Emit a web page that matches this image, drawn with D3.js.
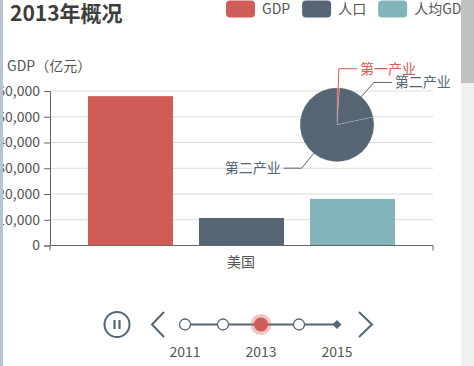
<!DOCTYPE html>
<html>
<head>
<meta charset="utf-8">
<script src="https://cdn.jsdelivr.net/npm/d3@7"></script>
<style>
  html, body { margin: 0; padding: 0; background: #fff; overflow: hidden; }
  text { font-family: "Noto Sans CJK SC", "Noto Sans", sans-serif; }
</style>
</head>
<body>
<script>
// chart data
var categories = ['美国'];
var seriesNames = ['GDP', '人口', '人均GDP'];
var seriesValues = [58000, 10700, 18100];
var yTicks = [0, 10000, 20000, 30000, 40000, 50000, 60000];
var pieNames = ['第一产业', '第二产业', '第二产业'];
var pieValues = [1.1, 20.6, 78.3];
var years = [2011, 2012, 2013, 2014, 2015];
var currentYear = 2013;

var width = 474, height = 366;
var colors = ['#cf5c57', '#566573', '#83b4b9'];
var pieColors = ['#cf5c57', '#566573', '#566573'];
var textColor = '#555';
var darkLine = '#566573';

var svg = d3.select('body').append('svg')
    .attr('width', width)
    .attr('height', height);

svg.append('defs').append('clipPath').attr('id', 'clip')
  .append('rect').attr('x', 0).attr('y', 0).attr('width', 461).attr('height', height);

var g = svg.append('g').attr('clip-path', 'url(#clip)');

// title
g.append('text')
    .attr('x', 10).attr('y', 21)
    .style('font-size', '21px').style('font-weight', 'bold')
    .attr('fill', '#3d3d3d')
    .text(currentYear + '年概况');

// legend
var lx = 226;
seriesNames.forEach(function(name, i) {
  g.append('rect')
      .attr('x', lx).attr('y', 0.5)
      .attr('width', 29).attr('height', 17).attr('rx', 4)
      .attr('fill', colors[i]);
  var t = g.append('text')
      .attr('x', lx + 36).attr('y', 9).attr('dy', '0.35em')
      .style('font-size', '14px').attr('fill', textColor)
      .text(name);
  lx += 36 + t.node().getComputedTextLength() + 12;
});

// scales
var y = d3.scaleLinear().domain([0, 60000]).range([245.5, 91]);
var x0 = d3.scaleBand().domain(categories).range([50, 433]);
var x1 = d3.scaleBand().domain(seriesNames)
    .range([0, x0.bandwidth()])
    .paddingInner(0.234).paddingOuter(0.342);

// grid lines
g.selectAll('.grid').data(yTicks.slice(1)).enter().append('line')
    .attr('x1', 50).attr('x2', 433)
    .attr('y1', function(d) { return y(d); }).attr('y2', function(d) { return y(d); })
    .attr('stroke', '#dcdcdc').attr('stroke-width', 1);

// y axis
var yAxis = g.append('g')
    .attr('transform', 'translate(50,0)')
    .call(d3.axisLeft(y).tickValues(yTicks).tickSize(6).tickPadding(4).tickFormat(d3.format(',')));
yAxis.select('.domain').attr('stroke', '#666');
yAxis.selectAll('.tick line').attr('stroke', '#666');
yAxis.selectAll('.tick text').attr('fill', textColor)
    .style('font-size', '14px').style('font-family', '"Noto Sans CJK SC", sans-serif');

g.append('text')
    .attr('x', 7).attr('y', 66).attr('dy', '0.35em')
    .style('font-size', '14px').attr('fill', textColor)
    .text('GDP（亿元）');

// bars
g.selectAll('.bar').data(seriesValues).enter().append('rect')
    .attr('x', function(d, i) { return x0(categories[0]) + x1(seriesNames[i]); })
    .attr('y', function(d) { return y(d); })
    .attr('width', x1.bandwidth())
    .attr('height', function(d) { return y(0) - y(d); })
    .attr('fill', function(d, i) { return colors[i]; });

// x axis
var xAxis = g.append('g')
    .attr('transform', 'translate(0,' + y(0) + ')');
xAxis.append('line').attr('x1', 50).attr('x2', 433).attr('stroke', '#666');
[50, 433].forEach(function(xx) {
  xAxis.append('line').attr('x1', xx).attr('x2', xx).attr('y1', 0).attr('y2', 5).attr('stroke', '#666');
});
xAxis.selectAll('.xl').data(categories).enter().append('text')
    .attr('x', function(d) { return x0(d) + x0.bandwidth() / 2 - 0.5; })
    .attr('y', 17).attr('dy', '0.35em')
    .attr('text-anchor', 'middle')
    .style('font-size', '14px').attr('fill', textColor)
    .text(function(d) { return d; });

// pie
var cx = 337, cy = 124.7, r = 37;
var arcs = d3.pie().sort(null).value(function(d) { return d; })(pieValues);
var arc = d3.arc().innerRadius(0).outerRadius(r);
var pg = g.append('g').attr('transform', 'translate(' + cx + ',' + cy + ')');
pg.selectAll('path').data(arcs).enter().append('path')
    .attr('d', arc)
    .attr('fill', function(d, i) { return pieColors[i]; })
    .attr('stroke', 'rgba(255,255,255,0.3)').attr('stroke-width', 0.6);

arcs.forEach(function(d, i) {
  var a = (d.startAngle + d.endAngle) / 2;
  var p0 = [Math.sin(a) * r, -Math.cos(a) * r];
  var p1 = [Math.sin(a) * (r + 19), -Math.cos(a) * (r + 19)];
  var right = Math.sin(a) >= 0;
  var p2 = [p1[0] + (right ? 18 : -18), p1[1]];
  pg.append('polyline')
      .attr('points', [p0, p1, p2].map(function(p) { return p.join(','); }).join(' '))
      .attr('fill', 'none').attr('stroke', pieColors[i]).attr('stroke-width', 1);
  pg.append('text')
      .attr('x', p2[0] + (right ? 3 : -3)).attr('y', p2[1]).attr('dy', '0.35em')
      .attr('text-anchor', right ? 'start' : 'end')
      .style('font-size', '14px').attr('fill', pieColors[i])
      .text(pieNames[i]);
});

// timeline
var tl = d3.scalePoint().domain(years).range([185, 337]);
var ty = 324.5;
var tg = g.append('g');

tg.append('circle').attr('cx', 117).attr('cy', ty).attr('r', 12.5)
    .attr('fill', 'none').attr('stroke', darkLine).attr('stroke-width', 2);
[114.5, 119.5].forEach(function(xx) {
  tg.append('line').attr('x1', xx).attr('x2', xx).attr('y1', ty - 4.5).attr('y2', ty + 4.5)
      .attr('stroke', darkLine).attr('stroke-width', 2.2);
});
tg.append('polyline').attr('points', '164,312 152,' + ty + ' 164,337')
    .attr('fill', 'none').attr('stroke', darkLine).attr('stroke-width', 2);
tg.append('polyline').attr('points', '359,312 372,' + ty + ' 359,337')
    .attr('fill', 'none').attr('stroke', darkLine).attr('stroke-width', 2);

tg.append('line')
    .attr('x1', tl(years[0])).attr('x2', tl(years[years.length - 1]))
    .attr('y1', ty).attr('y2', ty)
    .attr('stroke', darkLine).attr('stroke-width', 2);

years.forEach(function(yr, i) {
  var px = tl(yr);
  if (yr === currentYear) {
    tg.append('circle').attr('cx', px).attr('cy', ty).attr('r', 10.5)
        .attr('fill', colors[0]).attr('fill-opacity', 0.35);
    tg.append('circle').attr('cx', px).attr('cy', ty).attr('r', 7)
        .attr('fill', colors[0]);
  } else if (i === years.length - 1) {
    tg.append('path')
        .attr('d', d3.symbol().type(d3.symbolDiamond2).size(50))
        .attr('transform', 'translate(' + px + ',' + ty + ')')
        .attr('fill', darkLine);
  } else {
    tg.append('circle').attr('cx', px).attr('cy', ty).attr('r', 5.5)
        .attr('fill', '#fff').attr('stroke', darkLine).attr('stroke-width', 1.3);
  }
  if (i % 2 === 0) {
    tg.append('text')
        .attr('x', px).attr('y', 352).attr('dy', '0.35em')
        .attr('text-anchor', 'middle')
        .style('font-size', '14px').attr('fill', textColor)
        .text(yr);
  }
});

// page frame: left strip and scrollbar
svg.append('rect').attr('x', 0).attr('y', 0).attr('width', 3).attr('height', height)
    .attr('fill', '#b8c4d6');
svg.append('rect').attr('x', 461).attr('y', 0).attr('width', 13).attr('height', height)
    .attr('fill', '#f1f1f1');
svg.append('rect').attr('x', 461).attr('y', 0).attr('width', 13).attr('height', 83)
    .attr('fill', '#c1c1c1');
</script>
</body>
</html>
